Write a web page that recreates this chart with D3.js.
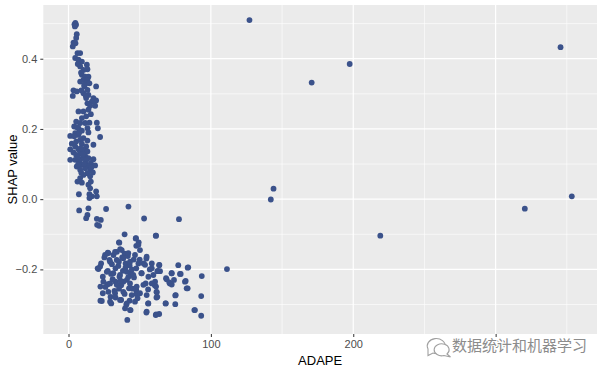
<!DOCTYPE html>
<html>
<head>
<meta charset="utf-8">
<script src="https://cdn.jsdelivr.net/npm/d3@7"></script>
<style>
  body { margin: 0; background: #fff; }
  svg { display: block; font-family: "Liberation Sans", Arial, sans-serif; }
</style>
</head>
<body>
<script>
const w = 600,
  h = 370;

// tick values
const xMajor = [0, 100, 200, 300];
const xMinor = [50, 150, 250, 350];
const yMajor = [-0.2, 0.0, 0.2, 0.4];
const yMinor = [-0.3, -0.1, 0.1, 0.3, 0.5];

// [ADAPE, SHAP value]
const lowAdape = [
  [4.2, 0.498], [4.8, 0.502], [5.3, 0.497], [4.5, 0.492], [5.8, 0.47], [5.4, 0.459],
  [3.5, 0.446], [3.0, 0.435], [4.9, 0.444], [6.3, 0.416], [8.2, 0.416], [4.7, 0.402],
  [7.0, 0.397], [9.4, 0.392], [12.9, 0.383], [8.2, 0.378], [10.5, 0.368], [13.3, 0.37],
  [9.4, 0.354], [11.7, 0.349], [14.0, 0.349], [10.5, 0.34], [13.3, 0.34], [8.2, 0.335],
  [12.2, 0.33], [14.7, 0.33], [11.2, 0.321], [19.4, 0.321], [3.5, 0.31], [5.8, 0.307],
  [13.3, 0.311], [10.5, 0.302], [3.0, 0.294], [14.0, 0.297], [12.4, 0.288], [17.5, 0.288],
  [19.4, 0.281], [16.4, 0.278], [13.3, 0.273], [15.2, 0.266], [18.7, 0.266], [7.0, 0.25],
  [10.5, 0.25], [14.0, 0.255], [15.7, 0.242], [9.4, 0.231], [12.4, 0.236], [5.4, 0.221],
  [8.2, 0.217], [11.7, 0.217], [14.7, 0.218], [19.9, 0.218], [4.0, 0.207], [7.0, 0.202],
  [13.3, 0.202], [20.6, 0.202], [9.4, 0.195], [4.7, 0.188], [14.0, 0.19], [7.0, 0.183],
  [1.2, 0.18], [4.0, 0.179], [22.2, 0.177], [10.5, 0.174], [8.2, 0.169], [5.4, 0.164],
  [13.3, 0.167], [2.3, 0.158], [9.4, 0.158], [17.5, 0.155], [4.7, 0.15], [12.4, 0.15],
  [1.2, 0.142], [7.0, 0.142], [10.5, 0.141], [13.3, 0.136], [3.5, 0.133], [8.2, 0.131],
  [5.4, 0.126], [11.7, 0.123], [9.9, 0.117], [14.0, 0.117], [1.2, 0.112], [4.7, 0.112],
  [7.7, 0.107], [17.5, 0.114], [11.7, 0.104], [15.7, 0.103], [9.4, 0.098], [13.3, 0.095],
  [5.8, 0.093], [18.7, 0.096], [11.7, 0.088], [15.2, 0.084], [8.2, 0.084], [17.1, 0.076],
  [13.3, 0.074], [10.5, 0.069], [15.2, 0.065], [8.2, 0.06], [6.3, 0.05], [9.4, 0.047],
  [15.7, 0.05], [14.0, 0.041], [15.2, 0.031], [19.4, 0.022], [7.3, 0.014], [14.7, 0.014],
  [16.4, 0.008], [14.7, 0.003], [19.9, 0.008], [7.5, -0.032], [14.0, -0.026], [13.3, -0.045],
  [12.4, -0.054], [26.4, -0.028], [19.9, -0.056], [22.7, -0.059], [20.1, -0.073], [21.5, -0.076],
  [42.1, -0.021], [53.1, -0.055], [77.6, -0.057], [6.5, 0.385], [8.8, 0.36], [11.0, 0.325],
  [9.0, 0.31], [12.0, 0.295], [7.5, 0.19], [6.0, 0.205], [8.5, 0.145], [6.5, 0.12],
  [10.0, 0.128], [12.5, 0.112], [11.0, 0.1], [6.8, 0.099], [16.0, 0.09], [9.0, 0.075]
];

const highAdape = [
  [39.4, -0.1], [61.3, -0.104], [47.2, -0.112], [35.4, -0.123], [49.3, -0.123], [47.6, -0.133],
  [36.3, -0.142], [34.0, -0.15], [27.6, -0.152], [39.4, -0.155], [31.6, -0.159], [41.7, -0.162],
  [25.2, -0.166], [37.7, -0.166], [54.7, -0.169], [45.8, -0.172], [28.8, -0.173], [50.0, -0.172],
  [35.4, -0.178], [22.9, -0.183], [40.1, -0.183], [52.8, -0.183], [42.9, -0.188], [63.7, -0.188],
  [77.1, -0.188], [83.7, -0.195], [20.5, -0.197], [33.0, -0.197], [47.6, -0.197], [57.1, -0.2],
  [27.6, -0.204], [38.2, -0.204], [62.9, -0.204], [72.4, -0.211], [29.9, -0.213], [43.4, -0.211],
  [51.2, -0.211], [78.3, -0.213], [93.6, -0.219], [24.1, -0.221], [35.8, -0.221], [46.0, -0.223],
  [41.0, -0.23], [68.9, -0.228], [74.1, -0.23], [82.3, -0.233], [33.0, -0.235], [54.2, -0.24],
  [71.2, -0.24], [27.6, -0.242], [37.0, -0.245], [60.6, -0.245], [22.4, -0.249], [42.5, -0.254],
  [83.7, -0.254], [32.3, -0.261], [47.6, -0.259], [55.9, -0.257], [61.8, -0.264], [24.1, -0.268],
  [39.4, -0.27], [47.6, -0.27], [75.0, -0.274], [93.2, -0.276], [29.5, -0.278], [61.8, -0.28],
  [22.4, -0.289], [37.0, -0.287], [42.9, -0.289], [55.9, -0.297], [68.2, -0.297], [75.0, -0.299],
  [30.0, -0.297], [40.6, -0.301], [43.6, -0.316], [88.4, -0.316], [54.7, -0.323], [61.3, -0.33],
  [63.7, -0.327], [93.2, -0.332], [41.3, -0.344], [61.5, -0.104], [63.8, -0.187], [84.1, -0.194],
  [72.5, -0.211], [78.8, -0.213], [68.5, -0.225], [70.8, -0.237], [81.8, -0.235], [72.5, -0.243],
  [83.0, -0.254], [75.3, -0.273], [68.3, -0.297], [88.8, -0.316], [61.5, -0.328], [58.5, -0.197],
  [59.6, -0.216], [60.8, -0.235], [61.5, -0.249], [62.0, -0.265], [62.4, -0.278], [64.3, -0.205],
  [62.4, -0.205], [47.4, -0.111], [35.7, -0.124], [49.1, -0.13], [50.2, -0.145], [25.7, -0.159],
  [28.0, -0.154], [32.7, -0.15], [37.4, -0.145], [42.0, -0.154], [46.7, -0.159], [54.9, -0.164],
  [22.2, -0.192], [21.0, -0.199], [29.2, -0.178], [33.9, -0.173], [38.5, -0.168], [43.2, -0.178],
  [49.1, -0.183], [53.8, -0.187], [58.5, -0.183], [26.9, -0.207], [31.5, -0.211], [36.2, -0.216],
  [40.9, -0.207], [45.5, -0.216], [51.4, -0.211], [56.1, -0.221], [24.5, -0.235], [29.2, -0.24],
  [33.9, -0.244], [38.5, -0.235], [43.2, -0.24], [47.9, -0.249], [52.6, -0.244], [58.5, -0.24],
  [28.0, -0.264], [32.7, -0.268], [38.5, -0.264], [44.4, -0.273], [50.2, -0.268], [54.9, -0.273],
  [23.4, -0.29], [29.2, -0.292], [36.2, -0.287], [40.9, -0.297], [46.7, -0.292], [56.1, -0.297],
  [39.7, -0.311], [43.2, -0.316], [54.9, -0.32], [30.5, -0.185], [35.0, -0.19], [40.0, -0.195],
  [44.5, -0.2], [31.0, -0.228], [36.5, -0.232], [42.0, -0.222], [26.0, -0.25], [35.5, -0.255],
  [45.0, -0.255], [33.0, -0.28], [48.5, -0.282]
];

const outliers = [
  [127.1, 0.51], [345.6, 0.433], [197.5, 0.385], [170.8, 0.332], [144.0, 0.03],
  [142.1, -0.001], [219.0, -0.104], [320.5, -0.027], [353.5, 0.008], [111.3, -0.199]
];

const points = [...lowAdape, ...highAdape, ...outliers];

const x = d3.scaleLinear().domain([-17.7, 371.2]).range([43.3, 597]);
const y = d3.scaleLinear().domain([-0.384, 0.553]).range([334, 5]);

const svg = d3.select('body').append('svg').attr('width', w).attr('height', h);

// panel
svg.append('rect')
  .attr('x', x.range()[0]).attr('y', y.range()[1])
  .attr('width', x.range()[1] - x.range()[0])
  .attr('height', y.range()[0] - y.range()[1])
  .attr('fill', '#EBEBEB');

const grid = svg.append('g');
grid.selectAll('.xmin').data(xMinor).join('line')
  .attr('x1', d => x(d)).attr('x2', d => x(d))
  .attr('y1', y.range()[0]).attr('y2', y.range()[1])
  .attr('stroke', '#fff').attr('stroke-width', 0.6);
grid.selectAll('.ymin').data(yMinor).join('line')
  .attr('y1', d => y(d)).attr('y2', d => y(d))
  .attr('x1', x.range()[0]).attr('x2', x.range()[1])
  .attr('stroke', '#fff').attr('stroke-width', 0.6);
grid.selectAll('.xmaj').data(xMajor).join('line')
  .attr('x1', d => x(d)).attr('x2', d => x(d))
  .attr('y1', y.range()[0]).attr('y2', y.range()[1])
  .attr('stroke', '#fff').attr('stroke-width', 1.2);
grid.selectAll('.ymaj').data(yMajor).join('line')
  .attr('y1', d => y(d)).attr('y2', d => y(d))
  .attr('x1', x.range()[0]).attr('x2', x.range()[1])
  .attr('stroke', '#fff').attr('stroke-width', 1.2);

// points
svg.append('g').selectAll('circle').data(points).join('circle')
  .attr('cx', d => x(d[0]))
  .attr('cy', d => y(d[1]))
  .attr('r', 2.9)
  .attr('fill', '#3B528B');

// axes
const xAxis = d3.axisBottom(x).tickValues(xMajor).tickSize(3).tickPadding(3);
const yAxis = d3.axisLeft(y).tickValues(yMajor).tickSize(3).tickPadding(3)
  .tickFormat(d3.format('.1f'));

const gx = svg.append('g').attr('transform', `translate(0,${y.range()[0]})`).call(xAxis);
const gy = svg.append('g').attr('transform', `translate(${x.range()[0]},0)`).call(yAxis);
[gx, gy].forEach(g => {
  g.select('.domain').remove();
  g.selectAll('.tick line').attr('stroke', '#333');
  g.selectAll('.tick text').attr('fill', '#4D4D4D').style('font-size', '11px');
});

svg.append('text')
  .attr('x', (x.range()[0] + x.range()[1]) / 2).attr('y', 365)
  .attr('text-anchor', 'middle').style('font-size', '13px').attr('fill', '#000')
  .text('ADAPE');

svg.append('text')
  .attr('transform', `translate(17,${(y.range()[0] + y.range()[1]) / 2}) rotate(-90)`)
  .attr('text-anchor', 'middle').style('font-size', '13px').attr('fill', '#000')
  .text('SHAP value');

// watermark (sits over the "300" label, as in the source image)
const wm = svg.append('g').attr('stroke', '#a0a0a0').attr('stroke-width', 1.1).attr('fill', '#fff');
wm.append('path').attr('d', 'M 428 349 a 9 7.5 0 1 1 5 4 l -5 2.5 z');
wm.append('path').attr('d', 'M 444 355.5 a 7.5 6 0 1 1 3 -1.5 l 3.5 3 z');
svg.append('text')
  .attr('x', 452).attr('y', 351)
  .style('font-family', '"Noto Sans CJK SC", sans-serif')
  .style('font-size', '15px')
  .attr('fill', '#8c8c8c')
  .attr('stroke', '#fff').attr('stroke-width', 2.5).attr('paint-order', 'stroke')
  .text('数据统计和机器学习');
</script>
</body>
</html>
